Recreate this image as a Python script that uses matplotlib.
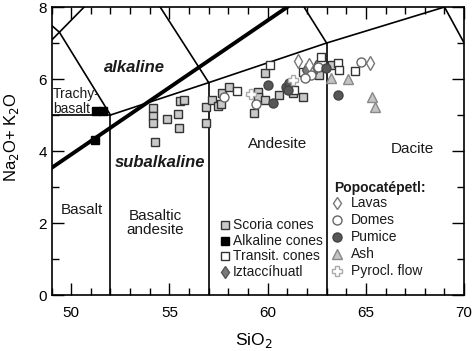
import matplotlib
matplotlib.use('Agg')
import matplotlib.pyplot as plt
import numpy as np

plt.rcParams['font.family'] = ['Liberation Sans', 'DejaVu Sans']
plt.rcParams['font.size'] = 11
plt.rcParams['text.color'] = '#1a1a1a'

# --- sample data (SiO2, Na2O+K2O) ---
scoria_x = [54.17, 54.17, 54.17, 54.9, 55.44, 55.55, 55.75, 55.49, 54.25, 56.88, 56.88,
            57.18, 57.45, 57.6, 57.69, 58.03, 59.28, 59.5, 59.5, 59.89, 59.84, 60.6,
            61.27, 61.78, 62.63, 63.3]
scoria_y = [5.19, 4.97, 4.79, 4.88, 5.03, 5.40, 5.42, 4.63, 4.26, 5.21, 4.77,
            5.42, 5.25, 5.30, 5.62, 5.79, 5.05, 5.65, 5.51, 5.42, 6.16, 5.56,
            5.60, 5.51, 6.11, 6.39]
alkaline_x = [51.25, 51.6, 51.2]
alkaline_y = [5.10, 5.12, 4.30]
transit_x = [58.43, 60.1, 61.78, 62.71, 63.56, 63.64, 64.46, 61.36]
transit_y = [5.68, 6.39, 6.20, 6.60, 6.44, 6.25, 6.23, 5.69]
izta_x = [61.95, 62.45]
izta_y = [6.25, 6.33]

lavas_x = [61.55, 62.1, 65.2]
lavas_y = [6.51, 6.39, 6.45]
domes_x = [57.76, 59.4, 62.2, 62.54, 64.75, 61.9]
domes_y = [5.49, 5.30, 6.10, 6.34, 6.48, 6.02]
pumice_x = [60.0, 60.26, 60.94, 61.1, 61.02, 62.97, 63.56]
pumice_y = [5.83, 5.32, 5.79, 5.88, 5.69, 6.30, 5.56]
ash_x = [63.22, 64.07, 65.3, 65.47]
ash_y = [6.02, 5.99, 5.51, 5.21]
pyro_x = [59.15, 61.3]
pyro_y = [5.58, 5.96]

# --- TAS field boundaries ---
boundaries = [
    ([49, 52], [5, 5]),
    ([52, 57, 63, 69, 77], [5, 5.9, 7, 8, 0]),
    ([45, 49.4, 52], [9.4, 7.3, 5]),
    ([49.4 - 1, 53], [7.3 - 0.556, 9.3]),
    ([53, 57], [9.3, 5.9]),
    ([57.6, 63], [11.7, 7]),
    ([52, 52], [0, 5]),
    ([57, 57], [0, 5.9]),
    ([63, 63], [0, 7]),
]
divide_x = [49, 61]
divide_y = [3.53, 8]

fig = plt.figure(figsize=(4.74, 3.51), dpi=100)
ax = fig.add_axes([0.1087, 0.1595, 0.8705, 0.8205])

for bx, by in boundaries:
    ax.plot(bx, by, color='black', lw=1.2)
ax.plot(divide_x, divide_y, color='black', lw=2.8)

ms = 6.2
ax.plot(scoria_x, scoria_y, 's', ms=ms, mfc='#c9c9c9', mec='#333333', mew=1.0, ls='none')
ax.plot(alkaline_x, alkaline_y, 's', ms=ms, mfc='black', mec='black', ls='none')
ax.plot(transit_x, transit_y, 's', ms=ms, mfc='white', mec='#333333', mew=1.0, ls='none')
ax.plot(izta_x, izta_y, 'd', ms=7, mfc='#7a7a7a', mec='#555555', ls='none')
ax.plot(lavas_x, lavas_y, 'd', ms=7.5, mfc='white', mec='#777777', mew=1.0, ls='none')
ax.plot(domes_x, domes_y, 'o', ms=6.5, mfc='white', mec='#666666', mew=1.0, ls='none')
ax.plot(pumice_x, pumice_y, 'o', ms=6.5, mfc='#575757', mec='#444444', ls='none')
ax.plot(ash_x, ash_y, '^', ms=7.5, mfc='#c4c4c4', mec='#888888', mew=1.0, ls='none')
ax.plot(pyro_x, pyro_y, 'P', ms=7.5, mfc='white', mec='#aaaaaa', mew=1.0, ls='none')

# field names
ax.text(53.2, 6.31, 'alkaline', fontsize=12, fontweight='bold', style='italic', ha='center', va='center')
ax.text(54.5, 3.69, 'subalkaline', fontsize=12, fontweight='bold', style='italic', ha='center', va='center')
ax.text(49.08, 5.37, 'Trachy-\nbasalt', fontsize=10, ha='left', va='center', linespacing=1.05)
ax.text(60.5, 4.2, 'Andesite', fontsize=11, ha='center', va='center')
ax.text(67.35, 4.05, 'Dacite', fontsize=11, ha='center', va='center')
ax.text(50.55, 2.36, 'Basalt', fontsize=11, ha='center', va='center')
ax.text(54.3, 2.0, 'Basaltic\nandesite', fontsize=11, ha='center', va='center', linespacing=1.05)

# legend (left block)
leg1 = [('s', '#c9c9c9', '#333333', 'Scoria cones'),
        ('s', 'black', 'black', 'Alkaline cones'),
        ('s', 'white', '#333333', 'Transit. cones'),
        ('d', '#7a7a7a', '#555555', 'Iztaccíhuatl')]
for i, (m, fc, ec, lab) in enumerate(leg1):
    yy = 1.94 - i * 0.43
    ax.plot([57.81], [yy], m, ms=6, mfc=fc, mec=ec, mew=1.0)
    ax.text(58.22, yy, lab, fontsize=10, ha='left', va='center')

# legend (Popocatepetl block)
ax.text(63.4, 2.97, 'Popocatépetl:', fontsize=10, fontweight='bold', ha='left', va='center')
leg2 = [('d', 'white', '#777777', 'Lavas'),
        ('o', 'white', '#666666', 'Domes'),
        ('o', '#575757', '#444444', 'Pumice'),
        ('^', '#c4c4c4', '#888888', 'Ash'),
        ('P', 'white', '#aaaaaa', 'Pyrocl. flow')]
for i, (m, fc, ec, lab) in enumerate(leg2):
    yy = 2.56 - i * 0.47
    ax.plot([63.55], [yy], m, ms=6.5, mfc=fc, mec=ec, mew=1.0)
    ax.text(64.25, yy, lab, fontsize=10, ha='left', va='center')

ax.set_xlim(49, 70)
ax.set_ylim(0, 8)
ax.set_xticks([50, 55, 60, 65, 70])
ax.set_xticks(np.arange(49, 71, 1), minor=True)
ax.set_yticks([0, 2, 4, 6, 8])
ax.set_yticks(np.arange(0, 9, 1), minor=True)
ax.tick_params(which='both', direction='in', top=True, right=True, width=1.0, labelsize=11)
ax.tick_params(which='major', length=8.5)
ax.tick_params(which='minor', length=5)
ax.tick_params(axis='x', pad=8)
ax.set_xlabel('SiO$_2$', fontsize=12.5)
ax.set_ylabel('Na$_2$O+ K$_2$O', fontsize=12)
ax.xaxis.set_label_coords(0.49, -0.125)
ax.yaxis.set_label_coords(-0.075, 0.55)
for s in ax.spines.values():
    s.set_linewidth(1.2)

fig.savefig('out.png', dpi=100)
